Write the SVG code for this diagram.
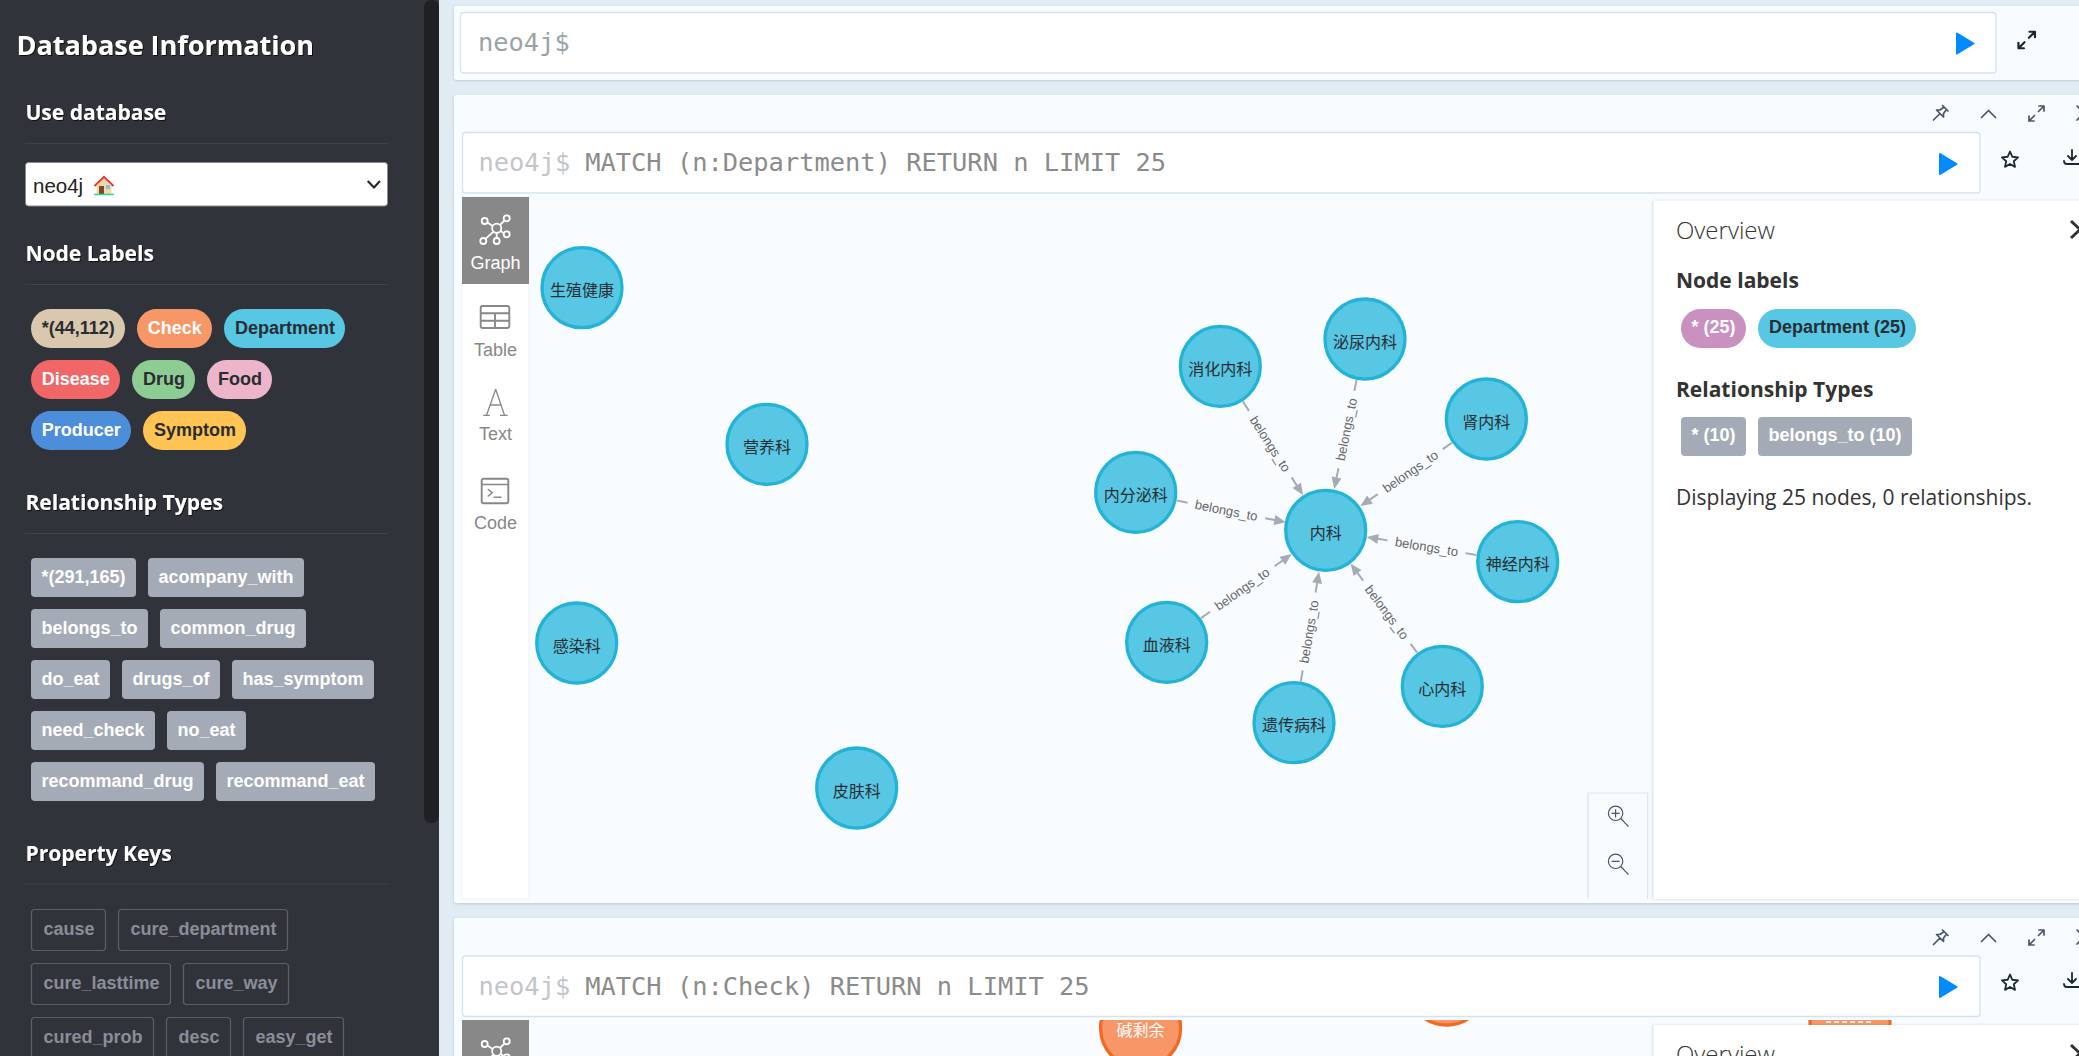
<svg xmlns="http://www.w3.org/2000/svg" xmlns:xlink="http://www.w3.org/1999/xlink" width="2079" height="1056" viewBox="0 0 2079 1056">
<style>
text{font-family:"Liberation Sans",Arial,sans-serif}
.os{font-family:"Open Sans","Noto Sans",sans-serif}
.h{font-family:"Open Sans",sans-serif;font-weight:700;font-size:21px;fill:#fff;filter:url(#ts)}
.hr{stroke:#40434c;stroke-width:1.2}
.b{font-weight:700;font-size:18px}
.w{fill:#fff}.d{fill:#2a2c33}
.tag{fill:#a5abb6}
.pk{fill:none;stroke:#5c5f69;stroke-width:1.2}
.pt{font-weight:700;font-size:18px;fill:#8a8e98}
.frame{fill:#f9fcff;filter:url(#fs)}
.inp{fill:#fff;stroke:#d3e3f0;stroke-width:1.3}
.mono{font-family:"DejaVu Sans Mono","Liberation Mono",monospace;font-size:25.4px}
.pr{fill:#c2c5cb}.cmd{fill:#8b8b8b}
.play{fill:#018bff;stroke:#018bff;stroke-width:2;stroke-linejoin:round}
.ic{fill:none;stroke:#4a5568;stroke-width:1.7;stroke-linecap:round;stroke-linejoin:round}
.ik{fill:none;stroke:#1c2733;stroke-width:1.8;stroke-linecap:round;stroke-linejoin:round}
.tb{font-size:18px;text-anchor:middle;fill:#888}
.tg{fill:none;stroke:#888;stroke-width:1.9;stroke-linecap:round;stroke-linejoin:round}
.n circle{fill:#57c7e3;stroke:#23b3d7;stroke-width:3.3}
.n text{font-family:"Noto Sans CJK SC",sans-serif;font-size:16px;text-anchor:middle;fill:#2a2c33}
.e line{stroke:#a5abb6;stroke-width:2}
.e polygon{fill:#a5abb6}
.e text{font-size:13px;fill:#666;text-anchor:middle}
.ttl{font-family:"Open Sans",sans-serif;fill:#333}
</style>
<defs>
<filter id="ts" x="-5%" y="-20%" width="110%" height="150%"><feDropShadow dx="1" dy="1" stdDeviation="0.6" flood-color="#000" flood-opacity="0.7"/></filter>
<filter id="fs" x="-2%" y="-2%" width="104%" height="104%"><feDropShadow dx="0" dy="1" stdDeviation="1.5" flood-color="#7a8a9a" flood-opacity="0.35"/></filter>
<filter id="ps" x="-3%" y="-3%" width="106%" height="106%"><feDropShadow dx="-1" dy="0" stdDeviation="1.5" flood-color="#7a8a9a" flood-opacity="0.3"/></filter>
<clipPath id="c3"><rect x="530" y="1020" width="1549" height="36"/></clipPath>
<path id="exp" d="M2 -2 L7 -7 M2.5 -7.5 H7.5 V-2.5 M-2 2 L-7 7 M-7.5 2.5 V7.5 H-2.5"/>
<path id="pin" d="M2 -7.5 L7.5 -2 M3.5 -6 L-0.5 -3 L-4 -3 L3 4 L3 0.5 L6 -3.5 M-0.5 0.5 L-7 7"/>
<path id="star" d="M0 -8.5 L2.35 -3.24 L8.08 -2.63 L3.8 1.24 L5 6.88 L0 4 L-5 6.88 L-3.8 1.24 L-8.08 -2.63 L-2.35 -3.24 Z"/>
<path id="dl" d="M0 -8 V2 M-4 -2 L0 2 L4 -2 M-8 3 Q-8 6 -5 6 H7"/>
<g id="gicon" fill="none" stroke="#fff" stroke-width="1.8">
<circle cx="496.7" cy="228.3" r="4.6"/><circle cx="484.7" cy="221" r="3"/><circle cx="506.7" cy="218.3" r="3"/><circle cx="506.7" cy="234.3" r="3"/><circle cx="496.7" cy="241" r="3"/><circle cx="483.3" cy="241" r="3"/>
<path d="M487.3 222.6 L492.8 226 M504.6 220.4 L500 225 M503.8 233.4 L500.8 231 M496.7 233 V238 M485.4 238.9 L493.3 231.8"/>
</g>
</defs>

<rect width="2079" height="1056" fill="#e1ebf4"/>

<g id="sidebar">
<rect width="424" height="1056" fill="#31333b"/>
<rect x="424" width="15" height="1056" fill="#31333b"/>
<rect x="424" width="15" height="823" rx="7" fill="#1f2024"/>
<text class="h" x="16.5" y="55" style="font-size:27px">Database Information</text>
<text class="h" x="25.5" y="120">Use database</text>
<line class="hr" x1="25" y1="143.5" x2="388" y2="143.5"/>
<rect x="25.5" y="162.5" width="362" height="43.5" rx="3" fill="#fff" stroke="#8a8a8a" stroke-width="1"/>
<text x="33" y="193" font-size="20.5px" fill="#222">neo4j</text>
<g id="house">
<rect x="96.5" y="185" width="15" height="9" fill="#f3d9a8"/>
<path d="M94.5 186 L104 177 L113.5 186" fill="none" stroke="#e5392f" stroke-width="2"/>
<path d="M97 185 L104 178.5 L111 185Z" fill="#f3d9a8"/>
<rect x="99" y="186" width="5" height="8" fill="#7a4b30"/><rect x="106" y="185" width="4" height="4" fill="#7cc4ef"/>
<rect x="94" y="193.7" width="20" height="1.5" fill="#1fe08e"/>
</g>
<path d="M367.7 181 L374 187.5 L380 181" fill="none" stroke="#222" stroke-width="2"/>

<text class="h" x="25.5" y="261">Node Labels</text>
<line class="hr" x1="25" y1="284.5" x2="388" y2="284.5"/>
<g id="pill-all"><rect x="31" y="309" width="94" height="39" rx="19.5" fill="#d9c8ae"/><text class="b d" x="41.7" y="333.5">*(44,112)</text></g>
<g id="pill-check"><rect x="137" y="309" width="75" height="39" rx="19.5" fill="#f79767"/><text class="b w" x="147.7" y="333.5">Check</text></g>
<g id="pill-dept"><rect x="224" y="309" width="121" height="39" rx="19.5" fill="#57c7e3"/><text class="b d" x="235" y="333.5">Department</text></g>
<g id="pill-disease"><rect x="31" y="360" width="89" height="39" rx="19.5" fill="#f16667"/><text class="b w" x="41.7" y="384.5">Disease</text></g>
<g id="pill-drug"><rect x="132" y="360" width="63" height="39" rx="19.5" fill="#8dcc93"/><text class="b d" x="143" y="384.5">Drug</text></g>
<g id="pill-food"><rect x="207" y="360" width="65" height="39" rx="19.5" fill="#ecb5c9"/><text class="b d" x="218" y="384.5">Food</text></g>
<g id="pill-producer"><rect x="31" y="411" width="100" height="39" rx="19.5" fill="#4c8eda"/><text class="b w" x="41.7" y="435.5">Producer</text></g>
<g id="pill-symptom"><rect x="143" y="411" width="103" height="39" rx="19.5" fill="#ffc454"/><text class="b d" x="154" y="435.5">Symptom</text></g>

<text class="h" x="25.5" y="510">Relationship Types</text>
<line class="hr" x1="25" y1="533.5" x2="388" y2="533.5"/>
<g id="rel-tags">
<rect class="tag" x="31" y="558" width="105" height="39" rx="4"/><text class="b w" x="41.5" y="582.5">*(291,165)</text>
<rect class="tag" x="148" y="558" width="156" height="39" rx="4"/><text class="b w" x="158.5" y="582.5">acompany_with</text>
<rect class="tag" x="31" y="609" width="117" height="39" rx="4"/><text class="b w" x="41.5" y="633.5">belongs_to</text>
<rect class="tag" x="160" y="609" width="146" height="39" rx="4"/><text class="b w" x="170.5" y="633.5">common_drug</text>
<rect class="tag" x="31" y="660" width="79" height="39" rx="4"/><text class="b w" x="41.5" y="684.5">do_eat</text>
<rect class="tag" x="122" y="660" width="98" height="39" rx="4"/><text class="b w" x="132.5" y="684.5">drugs_of</text>
<rect class="tag" x="232" y="660" width="142" height="39" rx="4"/><text class="b w" x="242.5" y="684.5">has_symptom</text>
<rect class="tag" x="31" y="711" width="124" height="39" rx="4"/><text class="b w" x="41.5" y="735.5">need_check</text>
<rect class="tag" x="167" y="711" width="79" height="39" rx="4"/><text class="b w" x="177.5" y="735.5">no_eat</text>
<rect class="tag" x="31" y="762" width="173" height="39" rx="4"/><text class="b w" x="41.5" y="786.5">recommand_drug</text>
<rect class="tag" x="216" y="762" width="159" height="39" rx="4"/><text class="b w" x="226.5" y="786.5">recommand_eat</text>
</g>

<text class="h" x="25.5" y="861">Property Keys</text>
<line class="hr" x1="25" y1="884" x2="388" y2="884"/>
<g id="prop-keys">
<rect class="pk" x="31.5" y="909.5" width="74" height="41" rx="3"/><text class="pt" x="43.5" y="934.5">cause</text>
<rect class="pk" x="118.5" y="909.5" width="169" height="41" rx="3"/><text class="pt" x="130.5" y="934.5">cure_department</text>
<rect class="pk" x="31.5" y="963.5" width="139" height="41" rx="3"/><text class="pt" x="43.5" y="988.5">cure_lasttime</text>
<rect class="pk" x="183.5" y="963.5" width="105" height="41" rx="3"/><text class="pt" x="195.5" y="988.5">cure_way</text>
<rect class="pk" x="31.5" y="1017.5" width="122" height="50" rx="3"/><text class="pt" x="43.5" y="1042.5">cured_prob</text>
<rect class="pk" x="166.5" y="1017.5" width="64" height="50" rx="3"/><text class="pt" x="178.5" y="1042.5">desc</text>
<rect class="pk" x="243.5" y="1017.5" width="100" height="50" rx="3"/><text class="pt" x="255.5" y="1042.5">easy_get</text>
</g>
</g>

<g id="frame-top">
<rect class="frame" x="454" y="6" width="1640" height="74" rx="3"/>
<rect class="inp" x="460.5" y="12.5" width="1535.5" height="60.5" rx="3"/>
<text class="mono" x="478" y="51" fill="#9aa3a8">neo4j$</text>
<path class="play" d="M1957 33.5 L1973.5 43.5 L1957 53.5Z"/>
<use href="#exp" class="ik" transform="translate(2026.7 40) scale(1.1)" style="stroke-width:2"/>
</g>

<g id="frame-department">
<rect class="frame" x="454" y="95" width="1640" height="808" rx="3"/>
<use href="#pin" class="ic" transform="translate(1940.5 113)"/>
<path class="ic" d="M1981.5 117.5 L1988.5 110.5 L1995.5 117.5"/>
<use href="#exp" class="ic" transform="translate(2036.5 113.5)"/>
<path class="ic" d="M2077 106 L2084 113 M2077 120 L2084 113"/>
<rect class="inp" x="462.5" y="132.5" width="1517.5" height="60.5" rx="3"/>
<text class="mono" x="478.5" y="171"><tspan class="pr">neo4j$</tspan><tspan class="cmd" x="585.2">MATCH (n:Department) RETURN n LIMIT 25</tspan></text>
<path class="play" d="M1940 154 L1956.5 164 L1940 174Z"/>
<use href="#star" class="ik" transform="translate(2010 160)"/>
<use href="#dl" class="ik" transform="translate(2072 158)"/>

<g id="toolbar">
<rect x="462" y="197" width="67" height="702" fill="#fff" stroke="#e4e8ee" stroke-width="0.6"/>
<rect x="462" y="197" width="67" height="87" fill="#888"/>
<use href="#gicon"/>
<text class="tb" x="495.5" y="269" style="fill:#fff">Graph</text>
<rect class="tg" x="480.7" y="306" width="28.6" height="22" rx="2"/><path class="tg" d="M481 313.3 H509 M481 320.7 H509 M495 313.3 V328"/>
<text class="tb" x="495.5" y="355.5">Table</text>
<path d="M495.7 389.3 L486.5 415.3 M495.7 389.3 L504.5 415.3 M489.5 405 H501.5 M483.3 415.3 H490 M500 415.3 H507.7" fill="none" stroke="#888" stroke-width="1.3"/>
<text class="tb" x="495.5" y="439.5">Text</text>
<rect class="tg" x="481.7" y="478.7" width="26.6" height="24.6" rx="2"/><path class="tg" d="M482 484.5 H508 M488.3 489.5 L492.3 492.7 L488.3 496 M494.3 497.3 H501" style="stroke-width:1.5"/>
<text class="tb" x="495.5" y="529">Code</text>
</g>

<g id="connectors" class="e">
<g id="e1" transform="translate(1220.3 366.3) rotate(57.3)"><line x1="42" x2="53"/><text x="92.3" y="4.5">belongs_to</text><line x1="132" x2="143"/><polygon points="153,0 141.5,-5 141.5,5"/></g>
<g id="e2" transform="translate(1365 339) rotate(101.6)"><line x1="42" x2="53"/><text x="92.3" y="4.5" transform="rotate(180 92.3 0)">belongs_to</text><line x1="132" x2="143"/><polygon points="153,0 141.5,-5 141.5,5"/></g>
<g id="e3" transform="translate(1486.3 419) rotate(145.3)"><line x1="42" x2="53"/><text x="92.3" y="4.5" transform="rotate(180 92.3 0)">belongs_to</text><line x1="132" x2="143"/><polygon points="153,0 141.5,-5 141.5,5"/></g>
<g id="e4" transform="translate(1517.7 561.7) rotate(189.3)"><line x1="42" x2="53"/><text x="92.3" y="4.5" transform="rotate(180 92.3 0)">belongs_to</text><line x1="132" x2="143"/><polygon points="153,0 141.5,-5 141.5,5"/></g>
<g id="e5" transform="translate(1442.3 686.3) rotate(233.2)"><line x1="42" x2="53"/><text x="92.3" y="4.5" transform="rotate(180 92.3 0)">belongs_to</text><line x1="132" x2="143"/><polygon points="153,0 141.5,-5 141.5,5"/></g>
<g id="e6" transform="translate(1294 722.7) rotate(-80.6)"><line x1="42" x2="53"/><text x="92.3" y="4.5">belongs_to</text><line x1="132" x2="143"/><polygon points="153,0 141.5,-5 141.5,5"/></g>
<g id="e7" transform="translate(1166.7 642.3) rotate(-35.2)"><line x1="42" x2="53"/><text x="92.3" y="4.5">belongs_to</text><line x1="132" x2="143"/><polygon points="153,0 141.5,-5 141.5,5"/></g>
<g id="e8" transform="translate(1135.7 492.3) rotate(11.3)"><line x1="42" x2="53"/><text x="92.3" y="4.5">belongs_to</text><line x1="132" x2="143"/><polygon points="153,0 141.5,-5 141.5,5"/></g>
</g>

<g id="node-shengzhi" class="n"><circle cx="582" cy="287.7" r="40"/><text x="582" y="296.2">生殖健康</text></g>
<g id="node-yingyang" class="n"><circle cx="767" cy="444.3" r="40"/><text x="767" y="452.8">营养科</text></g>
<g id="node-ganran" class="n"><circle cx="576.7" cy="643" r="40"/><text x="576.7" y="651.5">感染科</text></g>
<g id="node-pifu" class="n"><circle cx="856.7" cy="788" r="40"/><text x="856.7" y="796.5">皮肤科</text></g>
<g id="node-neike" class="n"><circle cx="1325.7" cy="530.3" r="40"/><text x="1325.7" y="538.8">内科</text></g>
<g id="node-xiaohua" class="n"><circle cx="1220.3" cy="366.3" r="40"/><text x="1220.3" y="374.8">消化内科</text></g>
<g id="node-miniao" class="n"><circle cx="1365" cy="339" r="40"/><text x="1365" y="347.5">泌尿内科</text></g>
<g id="node-shen" class="n"><circle cx="1486.3" cy="419" r="40"/><text x="1486.3" y="427.5">肾内科</text></g>
<g id="node-shenjing" class="n"><circle cx="1517.7" cy="561.7" r="40"/><text x="1517.7" y="570.2">神经内科</text></g>
<g id="node-xin" class="n"><circle cx="1442.3" cy="686.3" r="40"/><text x="1442.3" y="694.8">心内科</text></g>
<g id="node-yichuan" class="n"><circle cx="1294" cy="722.7" r="40"/><text x="1294" y="731.2">遗传病科</text></g>
<g id="node-xueye" class="n"><circle cx="1166.7" cy="642.3" r="40"/><text x="1166.7" y="650.8">血液科</text></g>
<g id="node-neifenmi" class="n"><circle cx="1135.7" cy="492.3" r="40"/><text x="1135.7" y="500.8">内分泌科</text></g>

<g id="zoom-box">
<path d="M1588 899 V793 H1647.7 V899" fill="#f9fcff" stroke="#d7e5f1" stroke-width="1.2"/>
<g fill="none" stroke="#4a5568" stroke-width="1.2">
<circle cx="1615.6" cy="813.3" r="7.2"/><path d="M1611.5 813.3 H1619.7 M1615.6 809.2 V817.4 M1620.8 818.5 L1628.5 826.7"/>
<circle cx="1615.6" cy="861.3" r="7.2"/><path d="M1611.5 861.3 H1619.7 M1620.8 866.5 L1628.5 874.7"/>
</g>
</g>

<g id="overview">
<rect x="1653.6" y="200.7" width="430" height="698.3" fill="#fff" filter="url(#ps)"/>
<path d="M2071 221 L2089 238 M2089 221 L2071 238" stroke="#333" stroke-width="3" fill="none"/>
<text class="ttl" x="1676" y="239" font-size="24px" font-weight="300">Overview</text>
<text class="ttl" x="1676" y="288" font-size="21px" font-weight="700">Node labels</text>
<rect x="1681" y="309" width="65" height="39" rx="19.5" fill="#c990c0"/><text class="b w" x="1691.5" y="333">* (25)</text>
<rect x="1758" y="309" width="158" height="39" rx="19.5" fill="#57c7e3"/><text class="b d" x="1769" y="333">Department (25)</text>
<text class="ttl" x="1676" y="396.5" font-size="21px" font-weight="700">Relationship Types</text>
<rect class="tag" x="1681" y="417" width="65" height="39" rx="4"/><text class="b w" x="1691.5" y="441">* (10)</text>
<rect class="tag" x="1758" y="417" width="154" height="39" rx="4"/><text class="b w" x="1768.5" y="441">belongs_to (10)</text>
<text class="ttl" x="1676" y="504.5" font-size="21px">Displaying 25 nodes, 0 relationships.</text>
</g>
</g>

<g id="frame-check">
<rect class="frame" x="454" y="918" width="1640" height="150" rx="3"/>
<use href="#pin" class="ic" transform="translate(1940.5 937.5)"/>
<path class="ic" d="M1981.5 941.5 L1988.5 934.5 L1995.5 941.5"/>
<use href="#exp" class="ic" transform="translate(2036.5 937.5)"/>
<path class="ic" d="M2077 930 L2084 937 M2077 944 L2084 937"/>
<rect class="inp" x="462.5" y="956" width="1517.5" height="60.5" rx="3"/>
<text class="mono" x="478.5" y="994.5"><tspan class="pr">neo4j$</tspan><tspan class="cmd" x="585.2">MATCH (n:Check) RETURN n LIMIT 25</tspan></text>
<path class="play" d="M1940 977 L1956.5 987 L1940 997Z"/>
<use href="#star" class="ik" transform="translate(2010 983)"/>
<use href="#dl" class="ik" transform="translate(2072 981)"/>
<rect x="462" y="1020" width="67" height="36" fill="#888"/>
<use href="#gicon" transform="translate(0 823)"/>
<g clip-path="url(#c3)">
<g id="node-jiansheng"><circle cx="1140.6" cy="1028" r="40" fill="#f79767" stroke="#f36924" stroke-width="3.3"/><text x="1140.6" y="1035.5" font-size="16px" text-anchor="middle" fill="#fff" style="font-family:'Noto Sans CJK SC',sans-serif">碱剩余</text></g>
<g id="node-check2"><circle cx="1446.7" cy="985" r="40" fill="#f79767" stroke="#f36924" stroke-width="3.3"/></g>
<g id="node-check3"><circle cx="1850" cy="1022" r="40" fill="#f79767" stroke="#f36924" stroke-width="3.3"/><line x1="1826" y1="1022" x2="1874" y2="1022" stroke="#fff" stroke-width="2" stroke-dasharray="5 3" opacity="0.8"/></g>
</g>
<rect x="1653.6" y="1025" width="430" height="40" fill="#fff" filter="url(#ps)"/>
<text class="ttl" x="1676" y="1063" font-size="24px" font-weight="300">Overview</text>
<path d="M2071 1045 L2089 1062 M2089 1045 L2071 1062" stroke="#333" stroke-width="3" fill="none"/>
</g>
</svg>
